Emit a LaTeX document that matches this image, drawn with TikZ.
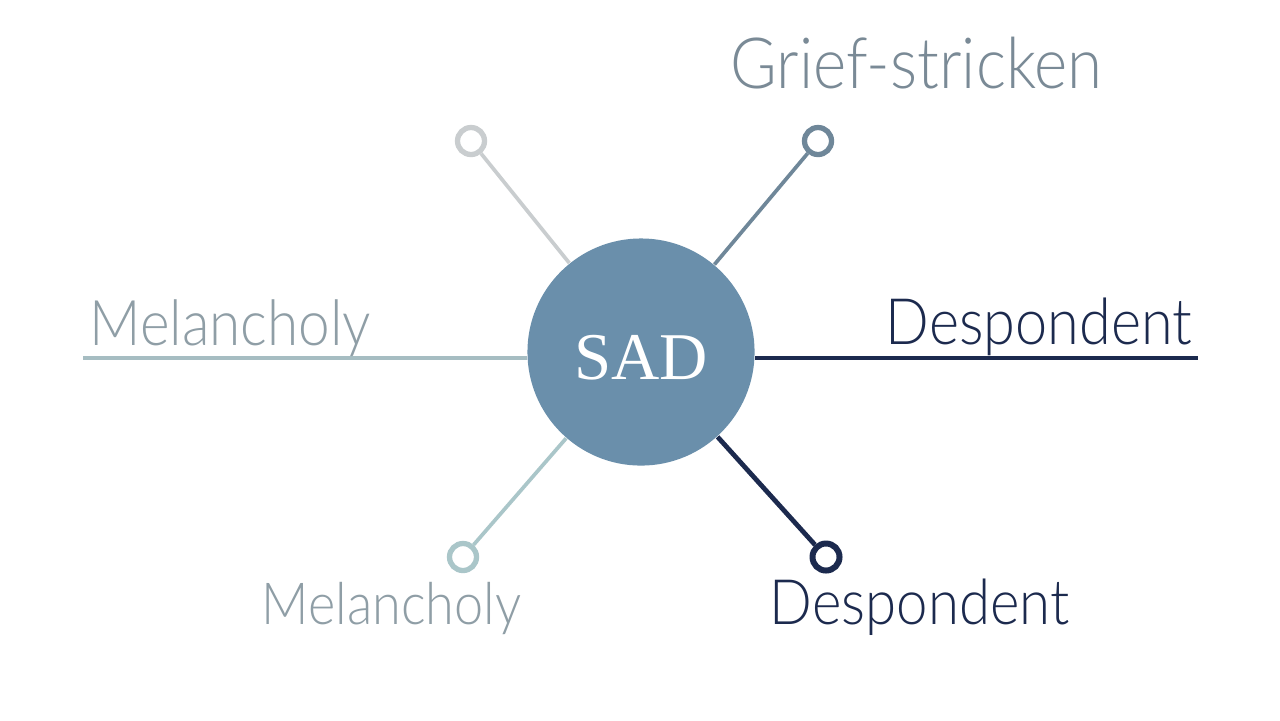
\documentclass[tikz,border=0pt]{standalone}
\usepackage{fontspec}
\setmainfont{Liberation Serif}
\newfontfamily\labfont{Lato Light}[FakeStretch=0.9]
\definecolor{bigc}{HTML}{6A8FAB}
\definecolor{tlc}{HTML}{C9CDCF}
\definecolor{trc}{HTML}{6F8799}
\definecolor{blc}{HTML}{AAC6C9}
\definecolor{navy}{HTML}{1C2A4E}
\definecolor{leftl}{HTML}{A6BDC2}
\definecolor{meltxt}{HTML}{8F9EA6}
\definecolor{grieftxt}{HTML}{7A8A96}
\tikzset{
  ring/.style={circle,draw,line width=1.5pt,minimum size=0.27cm,inner sep=0pt,fill=white},
  spoke/.style={line width=1.05pt},
  lab/.style={inner sep=0pt,anchor=base west}
}
\begin{document}
\begin{tikzpicture}[x=0.01cm,y=-0.01cm]
\useasboundingbox[fill=white] (0,0) rectangle (1280,720);
\node[circle,fill=bigc,minimum size=2.27cm,inner sep=0pt] (sad) at (641,352) {};
\node[text=white,font=\fontsize{19}{22}\selectfont,inner sep=0pt] (sadt) at (641,358) {SAD};
\node[ring,draw=tlc] (tl) at (471,141) {};
\node[ring,draw=trc] (tr) at (818,141) {};
\node[ring,draw=blc] (bl) at (463,557) {};
\node[ring,draw=navy,line width=1.7pt] (br) at (826,557) {};
\coordinate (lend) at (83,358);
\coordinate (rend) at (1198,358);
\coordinate (sadl) at (527,358);
\coordinate (sadr) at (755,358);
\draw[spoke,draw=tlc] (tl) -- (sad);
\draw[spoke,draw=trc] (tr) -- (sad);
\draw[spoke,draw=blc] (bl) -- (sad);
\draw[spoke,draw=navy,line width=1.35pt] (br) -- (sad);
\draw[line width=1pt,draw=leftl] (lend) -- (sadl);
\draw[line width=1pt,draw=navy] (sadr) -- (rend);
\node[lab,text=grieftxt,font=\labfont\fontsize{20.1}{23}\selectfont] (grief) at (730,88) {Grief-stricken};
\node[lab,text=meltxt,font=\labfont\fontsize{17.9}{21}\selectfont] (mel1) at (89,345) {Melancholy};
\node[lab,text=navy,font=\labfont\fontsize{18.2}{21}\selectfont] (desp1) at (885,344) {Despondent};
\node[lab,text=meltxt,font=\labfont\fontsize{16.5}{20}\selectfont] (mel2) at (261,624) {Melancholy};
\node[lab,text=navy,font=\labfont\fontsize{17.8}{20}\selectfont] (desp2) at (769,624) {Despondent};
\end{tikzpicture}
\end{document}
